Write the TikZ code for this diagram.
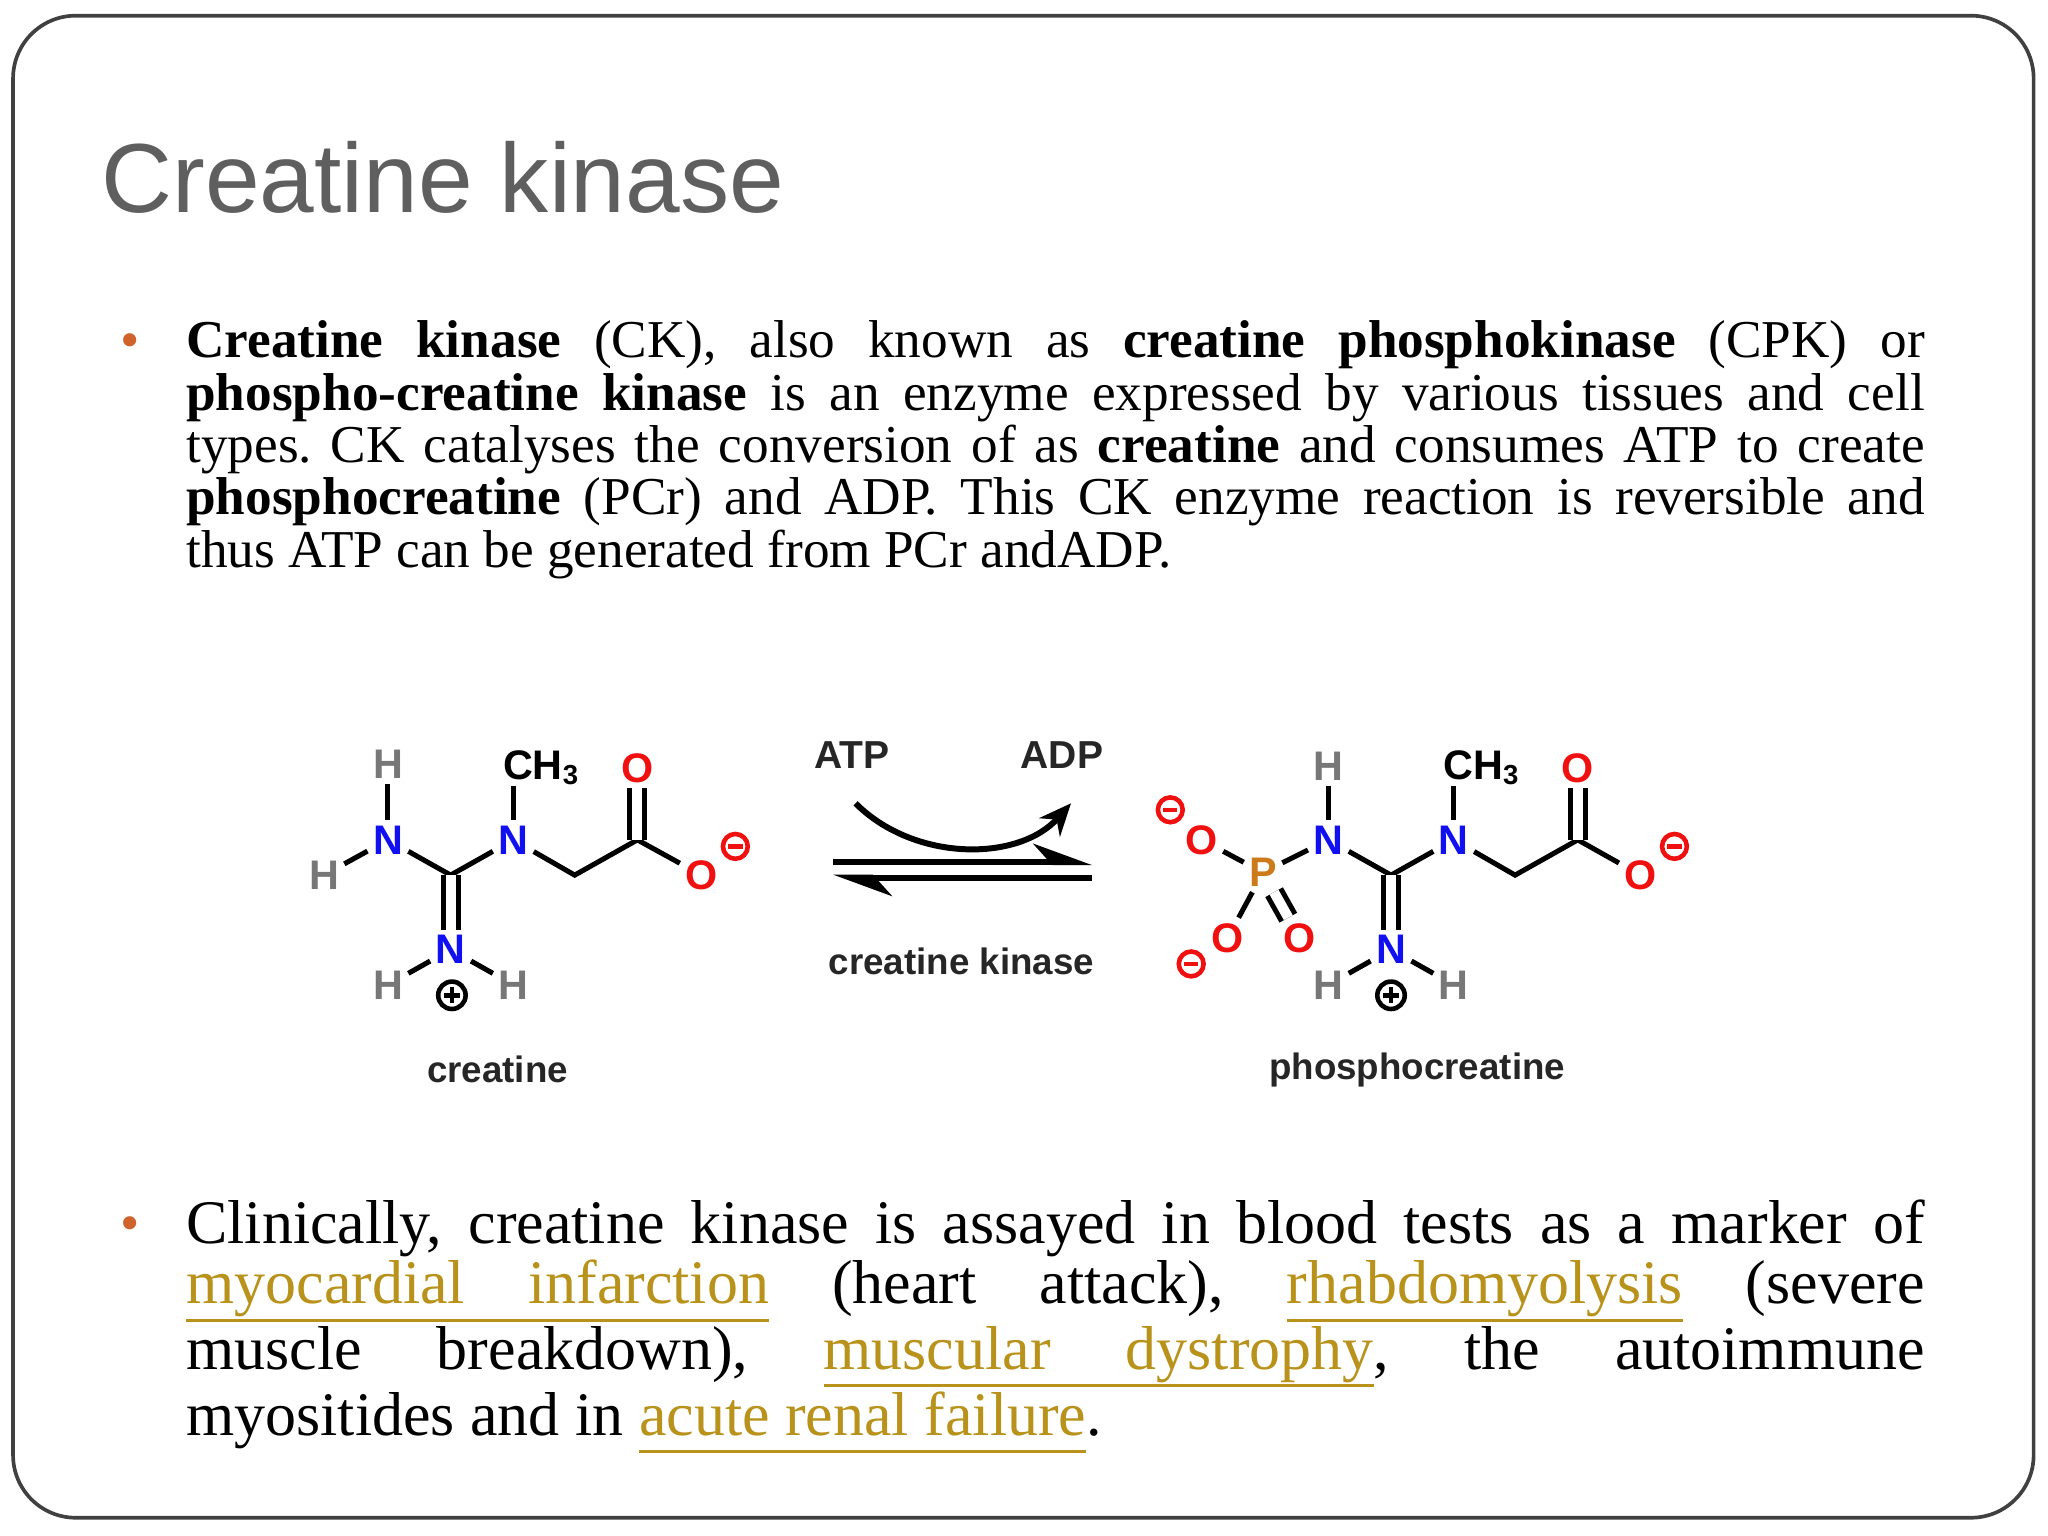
\documentclass[tikz,border=0pt]{standalone}
\usepackage{fontspec}
\setmainfont{Liberation Serif}
\newfontfamily\titlefont{Liberation Sans}
\newfontfamily\chemfont{Liberation Sans}
\usetikzlibrary{arrows.meta}
\frenchspacing
\definecolor{titlegrey}{HTML}{5F5F5F}
\definecolor{linkgold}{HTML}{B8921A}
\definecolor{bulletorange}{HTML}{D0622B}
\definecolor{nblue}{HTML}{1010F0}
\definecolor{ored}{HTML}{F01010}
\definecolor{porange}{HTML}{CC7A1A}
\definecolor{hgrey}{HTML}{777777}
\newcommand{\lnkw}[1]{{\color{linkgold}\setbox0\hbox{#1}\rlap{\vrule height -3.3pt depth 3.9pt width \wd0}\box0}}
\newcommand{\ulsp}{{\color{linkgold}\leaders\hrule height -3.3pt depth 3.9pt\hskip\fontdimen2\font plus\fontdimen3\font minus\fontdimen4\font}}
\begin{document}
\begin{tikzpicture}[x=0.1mm,y=-0.1mm,
  atom/.style={font=\chemfont\bfseries\fontsize{9}{9}\selectfont, inner sep=1pt},
  natom/.style={atom,text=nblue},
  oatom/.style={atom,text=ored},
  hatom/.style={atom,text=hgrey},
  bond/.style={line width=1.1pt,black},
  dbond/.style={line width=1.1pt,black,double,double distance=2.2pt},
  minus/.style={circle,draw=ored,line width=1pt,minimum size=1.9mm,inner sep=0pt,
     path picture={\draw[ored,line width=1pt] ([xshift=-0.55mm]path picture bounding box.center)--([xshift=0.55mm]path picture bounding box.center);}},
  plus/.style={circle,draw=black,line width=1pt,minimum size=2.1mm,inner sep=0pt,
     path picture={\draw[line width=1pt] ([xshift=-0.6mm]path picture bounding box.center)--([xshift=0.6mm]path picture bounding box.center) ([yshift=-0.6mm]path picture bounding box.center)--([yshift=0.6mm]path picture bounding box.center);}},
  lbl/.style={font=\chemfont\bfseries\fontsize{8}{8}\selectfont,text=black!85},
  bodytext/.style={anchor=north west,inner sep=0pt,text width=13.31cm,align=justify},
  bullet/.style={text=bulletorange,font=\fontsize{12}{12}\selectfont,inner sep=0pt}
]
\useasboundingbox (0,0) rectangle (1568,1176);
\draw[black!75,line width=0.8pt,rounded corners=4.8mm] (10,12) rectangle (1557,1162);
\node[anchor=base west,inner sep=0pt,text=titlegrey,font=\titlefont\fontsize{21.4}{21.4}\selectfont] (title) at (77,163) {Creatine kinase};

\node[bullet] (b1) at (100,265) {•};
\node[bodytext,font=\fontsize{11.6}{11.4}\selectfont] (t1) at (142,245) {\textbf{Creatine kinase} (CK), also known as \textbf{creatine phosphokinase} (CPK) or\linebreak
\textbf{phospho-creatine kinase} is an enzyme expressed by various tissues and cell\linebreak
types. CK catalyses the conversion of as \textbf{creatine} and consumes ATP to create\linebreak
\textbf{phosphocreatine} (PCr) and ADP. This CK enzyme reaction is reversible and\linebreak
thus ATP can be generated from PCr andADP.};

\node[bullet] (b2) at (100,941) {•};
\node[bodytext,font=\fontsize{13.5}{13.1}\selectfont] (t2) at (142,918) {Clinically, creatine kinase is assayed in blood tests as a marker of\linebreak
\lnkw{myocardial}\ulsp\lnkw{infarction} (heart attack), \lnkw{rhabdomyolysis} (severe\linebreak
muscle breakdown), \lnkw{muscular}\ulsp\lnkw{dystrophy}, the autoimmune\linebreak
myositides and in \lnkw{acute}\ulsp\lnkw{renal}\ulsp\lnkw{failure}.};

% ---------- creatine ----------
\node[hatom] (cH1) at (297,585) {H};
\node[natom] (cN1) at (297,643) {N};
\node[hatom] (cH2) at (248,670) {H};
\coordinate (cC1) at (345,670);
\node[natom] (cN2) at (393,643) {N};
\node[atom,anchor=west] (cMe) at (381,588) {CH\textsubscript{3}};
\coordinate (cMeb) at (393,602);
\coordinate (cCH2) at (440,670);
\coordinate (cC2) at (488,643);
\node[oatom] (cO1) at (488,588) {O};
\node[oatom] (cO2) at (537,670) {O};
\node[minus] (cm) at (563,648) {};
\node[natom] (cN3) at (345,727) {N};
\node[hatom] (cH3) at (297,754) {H};
\node[hatom] (cH4) at (393,754) {H};
\node[plus] (cp) at (346,762) {};
\draw[bond] (cH1)--(cN1);
\draw[bond] (cH2)--(cN1);
\draw[bond] (cN1)--(cC1)--(cN2);
\draw[bond] (cN2)--(cMeb);
\draw[bond] (cN2)--(cCH2)--(cC2)--(cO2);
\draw[dbond] (cC2)--(cO1);
\draw[dbond] (cC1)--(cN3);
\draw[bond] (cN3)--(cH3);
\draw[bond] (cN3)--(cH4);
\node[lbl] (clab) at (381,819) {creatine};

% ---------- arrows ----------
\node[lbl,font=\chemfont\bfseries\fontsize{8.5}{8.5}\selectfont] (atp) at (652,578) {ATP};
\node[lbl,font=\chemfont\bfseries\fontsize{8.5}{8.5}\selectfont] (adp) at (813,578) {ADP};
\coordinate (ca1) at (655,615);
\coordinate (ca2) at (820,615);
\draw[line width=1.3pt,-{Stealth[length=7pt,width=6pt]}] (ca1) .. controls (700,660) and (780,660) .. (ca2);
\coordinate (e1) at (638,660);
\coordinate (e2) at (836,660);
\coordinate (e3) at (836,672);
\coordinate (e4) at (638,672);
\draw[line width=1.3pt,-{Stealth[harpoon,length=11pt,width=8pt]}] (e1)--(e2);
\draw[line width=1.3pt,-{Stealth[harpoon,length=11pt,width=8pt]}] (e3)--(e4);
\node[lbl,font=\chemfont\bfseries\fontsize{8}{8}\selectfont] (ck) at (736,736) {creatine kinase};

% ---------- phosphocreatine ----------
\node[minus] (pm1) at (896,620) {};
\node[oatom] (pO1) at (920,643) {O};
\node[atom,text=porange] (pP) at (967,668) {P};
\node[oatom] (pO2) at (940,718) {O};
\node[minus] (pm2) at (912,738) {};
\node[oatom] (pO3) at (995,718) {O};
\node[natom] (pN1) at (1017,643) {N};
\node[hatom] (pH1) at (1017,587) {H};
\coordinate (pC1) at (1065,670);
\node[natom] (pN2) at (1113,643) {N};
\node[atom,anchor=west] (pMe) at (1101,588) {CH\textsubscript{3}};
\coordinate (pMeb) at (1113,602);
\coordinate (pCH2) at (1160,670);
\coordinate (pC2) at (1208,643);
\node[oatom] (pO4) at (1208,588) {O};
\node[oatom] (pO5) at (1256,670) {O};
\node[minus] (pm3) at (1282,648) {};
\node[natom] (pN3) at (1065,727) {N};
\node[hatom] (pH3) at (1017,754) {H};
\node[hatom] (pH4) at (1113,754) {H};
\node[plus] (pp) at (1065,762) {};
\draw[bond] (pO1)--(pP);
\draw[bond] (pP)--(pO2);
\draw[dbond] (pP)--(pO3);
\draw[bond] (pP)--(pN1);
\draw[bond] (pH1)--(pN1);
\draw[bond] (pN1)--(pC1)--(pN2);
\draw[bond] (pN2)--(pMeb);
\draw[bond] (pN2)--(pCH2)--(pC2)--(pO5);
\draw[dbond] (pC2)--(pO4);
\draw[dbond] (pC1)--(pN3);
\draw[bond] (pN3)--(pH3);
\draw[bond] (pN3)--(pH4);
\node[lbl] (plab) at (1085,819) {phosphocreatine};
\end{tikzpicture}
\end{document}
